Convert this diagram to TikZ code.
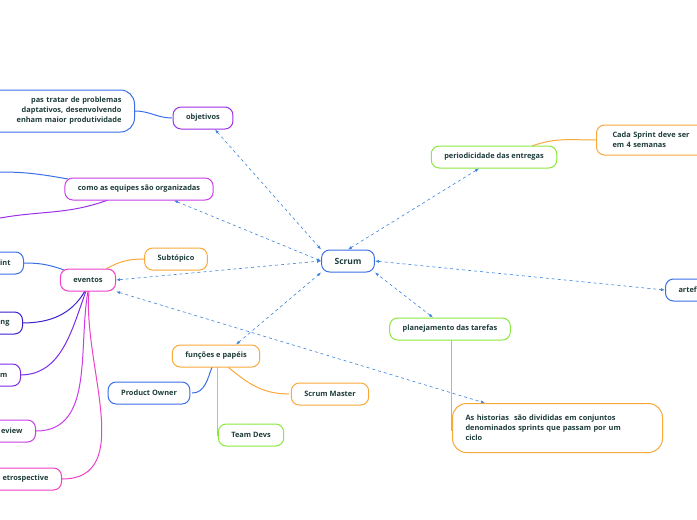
\documentclass[tikz,border=0pt]{standalone}
\usepackage{fontspec}
\setmainfont{Open Sans}
\usetikzlibrary{arrows.meta}
\definecolor{cblue}{HTML}{3A6FE8}
\definecolor{cpurp}{HTML}{9B30E8}
\definecolor{cmag}{HTML}{C93CE8}
\definecolor{cpink}{HTML}{EE3FC8}
\definecolor{corg}{HTML}{F9A83A}
\definecolor{cgrn}{HTML}{8BE83E}
\definecolor{cind}{HTML}{3A22CC}
\definecolor{cvio}{HTML}{7A2BE8}
\definecolor{ctxt}{HTML}{1E3D3A}
\definecolor{cdash}{HTML}{3A82DD}
\tikzset{
 bx/.style={draw=#1,line width=1pt,rounded corners=8pt,fill=white,font=\fontsize{7.4}{10}\selectfont\bfseries,text=ctxt,minimum height=22pt,inner xsep=13pt},
 br/.style={line width=1pt,draw=#1},
 dl/.style={cdash,dashed,line width=0.6pt,{Latex[length=4pt,width=3pt]}-{Latex[length=4pt,width=3pt]}}
}
\begin{document}
\begin{tikzpicture}[x=1pt,y=-1pt]
\useasboundingbox (0,0) rectangle (697,520);
\clip (0,0) rectangle (697,520);
% branches (drawn first)
\draw[br=cblue] (135,111) to[out=0,in=180] (172,118);
\draw[br=cblue] (68,179) to[out=170,in=0] (0,172);
\draw[br=cpurp] (108,200) to[out=200,in=10] (0,218);
\draw[br=corg] (106,269) to[out=30,in=180] (144,259);
\draw[br=cblue] (24,263) to[out=0,in=160] (64,270);
\draw[br=cind] (22,323) to[out=0,in=240] (85,291);
\draw[br=cvio] (20,375) to[out=0,in=250] (86,291);
\draw[br=cmag] (36,431) to[out=0,in=260] (88,291);
\draw[br=cpink] (62,479) to[out=0,in=265] (89,291);
\draw[br=cblue] (212,367) to[out=250,in=0] (192,393);
\draw[br=cgrn] (217,367) -- (217,435) -- (222,435);
\draw[br=corg] (228,367) to[out=-40,in=180] (289,394);
\draw[br=corg] (532,146) to[out=20,in=180] (596,140);
\draw[br=corg] (451,340) -- (451,430) -- (456,430);
% nodes
\node[bx=cblue] (scrum) at (348,261) {\fontsize{8.5}{10}\selectfont Scrum};
\node[bx=cpurp] (obj) at (203,118) {objetivos};
\node[bx=cblue,minimum height=42pt,anchor=east,align=right,text width=150pt,rounded corners=14pt] (big) at (135,111) {pas tratar de problemas\hspace*{11pt}\\daptativos, desenvolvendo\hspace*{4pt}\\enham maior produtividade};
\node[bx=cmag] (como) at (139,189) {como as equipes são organizadas};
\node[bx=cpink] (ev) at (88,280) {eventos};
\node[bx=corg] (sub) at (176,259) {Subtópico};
\node[bx=cblue,anchor=east,text width=40pt,align=right] (s1) at (24,263) {int};
\node[bx=cind,anchor=east,text width=40pt,align=right] (s2) at (23,323) {ng};
\node[bx=cvio,anchor=east,text width=40pt,align=right] (s3) at (21,375) {m};
\node[bx=cmag,anchor=east,text width=40pt,align=right] (s4) at (36,431) {eview};
\node[bx=cpink,anchor=east,text width=60pt,align=right] (s5) at (62,479) {etrospective};
\node[bx=corg] (fun) at (216,356) {funções e papéis};
\node[bx=cblue] (po) at (149,393) {Product Owner};
\node[bx=cgrn] (td) at (251,435) {Team Devs};
\node[bx=corg] (sm) at (330,394) {Scrum Master};
\node[bx=cgrn] (per) at (494,157) {periodicidade das entregas};
\node[bx=corg,anchor=west,minimum height=30pt,align=left,text width=100pt,inner xsep=16pt] (cada) at (596,140) {Cada Sprint deve ser\\em 4 semanas};
\node[bx=cblue,anchor=west,text width=40pt,align=left] (art) at (665,290) {artef};
\node[bx=cgrn] (plan) at (450,329) {planejamento das tarefas};
\node[bx=corg,anchor=west,minimum height=49pt,align=left,text width=184pt,rounded corners=14pt] (hist) at (452,428) {As historias\ \ são divididas em conjuntos\\denominados sprints que passam por um\\ciclo};
\coordinate (hn) at (485,403);
% dashed
\draw[dl] (obj.south) ++(12,0) -- (scrum.north west);
\draw[dl] (como.south) ++(35,0) -- (scrum.west);
\draw[dl] (ev.east) -- (scrum.west);
\draw[dl] (fun.north) ++(20,0) -- (scrum.south west);
\draw[dl] (per.south) ++(-15,0) -- (scrum.north);
\draw[dl] (plan.north) ++(-17,0) -- (scrum.south east);
\draw[dl] (scrum.east) -- (art.west);
\draw[dl] (ev.south east) -- (hn);
\end{tikzpicture}
\end{document}
